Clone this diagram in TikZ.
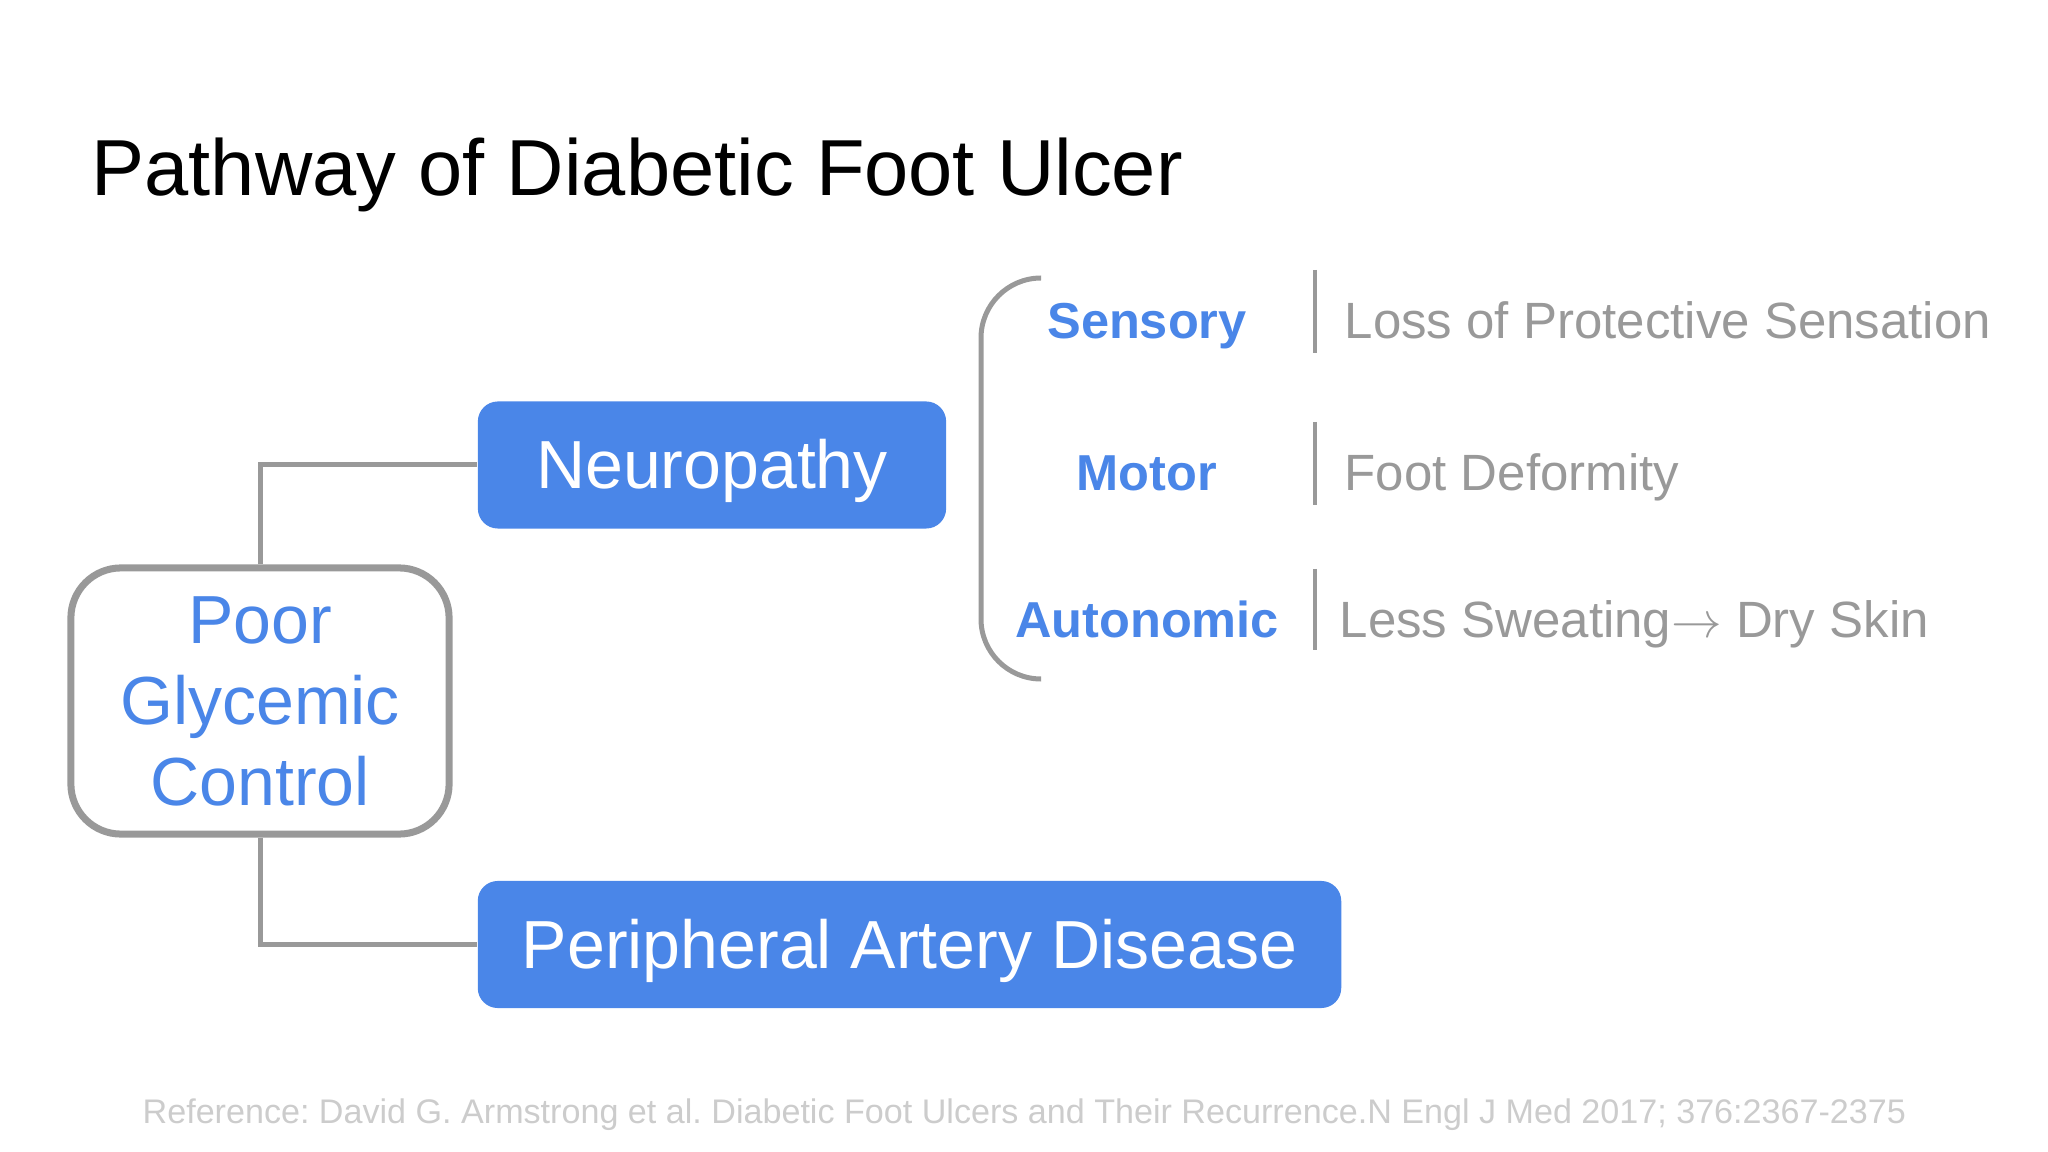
\documentclass[tikz,border=0pt]{standalone}
\usepackage{fontspec}
\setmainfont{Liberation Sans}
\usetikzlibrary{positioning}
\definecolor{gblue}{HTML}{4A86E8}
\definecolor{ggray}{HTML}{999999}
\definecolor{refgray}{HTML}{CCCCCC}

\begin{document}
\begin{tikzpicture}[x=0.01cm,y=-0.01cm,
  root/.style={draw=ggray,line width=0.07cm,rounded corners=0.5cm,fill=white,text=gblue,align=center,minimum width=3.78cm,minimum height=2.66cm,inner sep=0pt,font=\fontsize{19.35}{23.05}\selectfont},
  branch/.style={fill=gblue,rounded corners=0.2cm,text=white,inner sep=0pt,minimum height=1.27cm,text height=13.5pt,text depth=0pt,font=\fontsize{19.35}{23}\selectfont},
  kind/.style={text=gblue,font=\bfseries\fontsize{14.37}{17}\selectfont,anchor=base,inner sep=0pt},
  effect/.style={text=ggray,font=\fontsize{14.5}{17}\selectfont,anchor=base west,inner sep=0pt},
  link/.style={draw=ggray,line width=0.05cm}]

  \useasboundingbox (0,0) rectangle (2048,1152);

  \node[anchor=base west,inner sep=0pt,font=\fontsize{22.6}{27}\selectfont] (title) at (91,196) {Pathway of Diabetic Foot Ulcer};

  \node[root] (pgc) at (260,701) {Poor\\Glycemic\\Control};
  \node[branch,minimum width=4.68cm] (neuro) at (712,465) {Neuropathy};
  \node[branch,minimum width=8.63cm] (pad) at (909.5,944.5) {Peripheral Artery Disease};
  \draw[link] (pgc.north) |- (neuro.west);
  \draw[link] (pgc.south) |- (pad.west);

  % neuropathy types
  \coordinate (btop) at (1041,278);
  \coordinate (bbot) at (1041,679);
  \draw[link,rounded corners=0.6cm] (btop) -- (981,278) -- (981,679) -- (bbot);

  \node[kind] (sens) at (1147,339) {Sensory};
  \node[kind] (motor) at (1147,491) {Motor};
  \node[kind] (auto) at (1147,637) {Autonomic};

  \foreach \ya/\yb in {270/353,422/505,569/650}
    \draw[link,line width=0.045cm] (1315,\ya) -- (1315,\yb);

  \node[effect] (loss) at (1344,339) {Loss of Protective Sensation};
  \node[effect] (deform) at (1344,491) {Foot Deformity};
  \node[effect] (sweat) at (1339,637) {Less Sweating$\rightarrow$ Dry Skin};

  \node[anchor=base west,inner sep=0pt,text=refgray,font=\fontsize{9.7}{11}\selectfont] (ref) at (142,1123) {\frenchspacing Reference: David G. Armstrong et al. Diabetic Foot Ulcers and Their Recurrence.N Engl J Med 2017; 376:2367-2375};
\end{tikzpicture}
\end{document}
